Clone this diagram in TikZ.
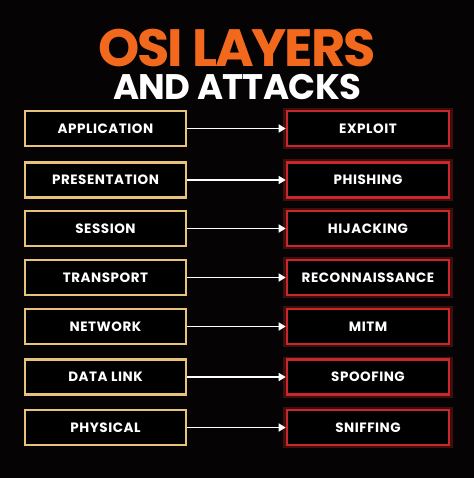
\documentclass[tikz,border=0pt]{standalone}
\usepackage{fontspec}
\setmainfont{Poppins}
\newfontfamily\boxfont{Poppins}[LetterSpace=4]
\usetikzlibrary{arrows.meta}
\definecolor{bg}{HTML}{050303}
\definecolor{osiorange}{HTML}{F2691E}
\definecolor{layergold}{HTML}{E6C27A}
\definecolor{attackred}{HTML}{C8282C}
\tikzset{
  layerbox/.style={draw=layergold, line width=2.6pt, fill=black, minimum width=161pt, minimum height=35pt, inner sep=0pt, text=white, font=\boxfont\bfseries\fontsize{13.5}{15}\selectfont},
  attackbox/.style={draw=attackred, line width=2.6pt, fill=black, minimum width=162pt, minimum height=35pt, inner sep=0pt, text=white, font=\boxfont\bfseries\fontsize{13.5}{15}\selectfont},
  glow/.style={draw=attackred!70!black, line width=6pt, opacity=0.45},
  link/.style={draw=white, line width=1.6pt, -{Triangle[length=7pt,width=8pt]}},
  titletext/.style={inner sep=0pt, font=\bfseries, anchor=base, text depth=0pt},
}
\begin{document}
\begin{tikzpicture}[x=1pt,y=-1pt]
\fill[bg] (0,0) rectangle (474,478);
\useasboundingbox (0,0) rectangle (474,478);
\node[titletext, text=osiorange, text height=37pt] (t1) at (237,66.5) {\fontsize{52.5}{54}\selectfont\addfontfeature{LetterSpace=-4}OSI LAYERS};
\node[titletext, text=white, text height=24pt] (t2) at (237,100) {\fontsize{35.5}{37}\selectfont\addfontfeature{LetterSpace=-2}AND ATTACKS};
\foreach \y/\l/\a [count=\i] in {128.5/APPLICATION/EXPLOIT, 180/PRESENTATION/PHISHING, 228.5/SESSION/HIJACKING, 277.5/TRANSPORT/RECONNAISSANCE, 326.5/NETWORK/MITM, 377/DATA LINK/SPOOFING, 427.5/PHYSICAL/SNIFFING}{
  \draw[glow] (286,\y-17.5) rectangle (450,\y+17.5);
  \node[layerbox] (L\i) at (105.5,\y) {\l};
  \node[attackbox] (A\i) at (368,\y) {\a};
  \draw[link] (L\i.east) -- (A\i.west);
}
\end{tikzpicture}
\end{document}
